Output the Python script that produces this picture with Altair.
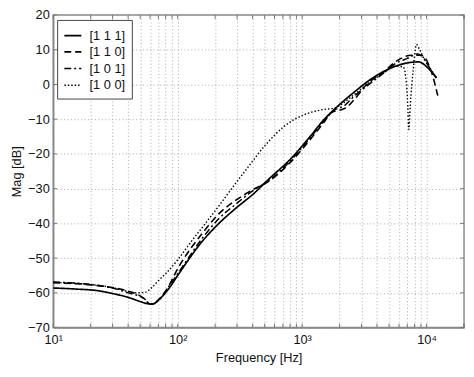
import altair as alt
import pandas as pd

series_names = ["[1 1 1]", "[1 1 0]", "[1 0 1]", "[1 0 0]"]

freq_111 = [10, 15, 23, 30, 40, 50, 57, 63, 72, 86, 100, 159, 216, 292, 406, 534, 815,
            1170, 1490, 1900, 2600, 3700, 5300, 7600, 8600, 10300, 12000]
mag_111 = [-58.6, -58.9, -59.4, -60.2, -61.3, -62.5, -63.1, -63.2, -61.7, -58.5, -55.0,
           -45.0, -39.9, -35.7, -31.5, -27.4, -21.3, -14.8, -10.2, -6.5, -2.3, 1.9, 4.9,
           6.4, 6.5, 4.7, 1.9]

freq_110 = [10, 20, 30, 40, 54, 60, 70, 80, 104, 159, 216, 292, 406, 534, 815, 1170,
            1490, 1750, 2000, 2300, 2600, 3300, 4600, 5600, 7600, 9100, 10900, 12300]
mag_110 = [-57.1, -57.7, -58.5, -59.5, -61.7, -63.3, -62.0, -59.5, -52.0, -42.7, -37.1,
           -33.4, -30.2, -28.0, -22.2, -15.7, -11.0, -7.9, -7.4, -6.5, -4.5, 0.0, 3.8,
           6.5, 8.4, 8.4, 3.8, -3.2]

freq_101 = [10, 20, 30, 40, 54, 60, 70, 80, 100, 160, 216, 292, 406, 534, 815, 1170,
            1500, 1800, 2200, 2600, 3300, 4600, 5600, 7000, 8500, 9500, 10900, 12000]
mag_101 = [-56.9, -57.6, -58.6, -60.0, -61.7, -63.3, -62.3, -59.5, -54.5, -44.0, -38.5,
           -34.5, -30.5, -27.8, -21.8, -15.2, -10.5, -7.5, -6.0, -3.5, -0.5, 3.5, 6.0,
           7.5, 8.8, 7.5, 4.0, 1.9]

freq_100 = [10, 20, 30, 40, 47, 55, 62, 70, 80, 100, 130, 159, 214, 292, 350, 503, 720,
            1040, 1490, 1800, 2500, 3300, 4600, 5600, 6500, 6900, 7100, 7200, 7400, 7800,
            8300, 8800, 9500, 10500, 12000]
mag_100 = [-57.0, -57.6, -58.5, -59.6, -60.0, -59.8, -58.5, -56.5, -54.5, -50.5, -45.0,
           -41.0, -35.0, -28.5, -24.8, -17.6, -12.0, -8.7, -7.2, -6.8, -3.5, 0.0, 3.5, 5.3,
           5.0, 0.0, -8.0, -13.0, -6.0, 4.0, 11.5, 10.0, 7.5, 5.0, 2.0]

y_ticks = [-70, -60, -50, -40, -30, -20, -10, 0, 10, 20]
decades = [10, 100, 1000, 10000]
x_grid = [m * d for d in decades for m in range(1, 10) if m * d <= 20000] + [20000]

rows = []
for name, fr, mg in zip(series_names,
                        [freq_111, freq_110, freq_101, freq_100],
                        [mag_111, mag_110, mag_101, mag_100]):
    for f, m in zip(fr, mg):
        rows.append({"freq": f, "mag": m, "series": name})
df = pd.DataFrame(rows)

W, H = 418, 318
xscale = alt.Scale(type="log", domain=[10, 20000], nice=False)
yscale = alt.Scale(domain=[-70, 20], nice=False)

label_expr = ("datum.value == 10 ? '10¹' : datum.value == 100 ? '10²' : "
              "datum.value == 1000 ? '10³' : datum.value == 10000 ? '10⁴' : ''")
y_label_expr = "datum.value < 0 ? '\u2212' + abs(datum.value) : '' + datum.value"

x_axis = alt.Axis(values=x_grid, labelExpr=label_expr, title="Frequency [Hz]",
                  ticks=False, labelFlush=False, labelOverlap=False,
                  labelPadding=6, titleY=25, titleBaseline="top")
y_axis = alt.Axis(values=y_ticks, title="Mag [dB]", ticks=False, labelExpr=y_label_expr,
                  labelOverlap=False, labelFlush=False,
                  labelPadding=4, titleX=-30)

lines = alt.Chart(df).mark_line(color="black", interpolate="monotone").encode(
    x=alt.X("freq:Q", scale=xscale, axis=x_axis),
    y=alt.Y("mag:Q", scale=yscale, axis=y_axis),
    strokeDash=alt.StrokeDash("series:N",
                              scale=alt.Scale(domain=series_names,
                                              range=[[1, 0], [7, 4], [7, 3, 2, 3], [1.5, 2]]),
                              legend=alt.Legend(title=None, orient="none", legendX=4, legendY=5,
                                                symbolType="stroke", symbolSize=300,
                                                symbolStrokeColor="black", symbolStrokeWidth=1.4,
                                                labelFontSize=13, labelOffset=7,
                                                rowPadding=0, padding=6,
                                                fillColor="white", strokeColor="#444")),
    strokeWidth=alt.StrokeWidth("series:N",
                                scale=alt.Scale(domain=series_names, range=[1.7, 1.4, 1.4, 1.3]),
                                legend=None),
    order=alt.Order("freq:Q"),
)

xt = pd.DataFrame({"freq": x_grid})
yt = pd.DataFrame({"mag": y_ticks})
tick_col = "#777"
xt_bottom = alt.Chart(xt).mark_rule(color=tick_col).encode(
    x=alt.X("freq:Q", scale=xscale, axis=x_axis), y=alt.value(H - 4), y2=alt.value(H))
xt_top = alt.Chart(xt).mark_rule(color=tick_col).encode(
    x=alt.X("freq:Q", scale=xscale, axis=x_axis), y=alt.value(0), y2=alt.value(4))
yt_left = alt.Chart(yt).mark_rule(color=tick_col).encode(
    y=alt.Y("mag:Q", scale=yscale, axis=y_axis), x=alt.value(0), x2=alt.value(4))
yt_right = alt.Chart(yt).mark_rule(color=tick_col).encode(
    y=alt.Y("mag:Q", scale=yscale, axis=y_axis), x=alt.value(W - 4), x2=alt.value(W))

chart = alt.layer(lines, xt_bottom, xt_top, yt_left, yt_right).properties(
    width=W, height=H,
    autosize=alt.AutoSizeParams(type="none"),
    padding={"left": 46, "top": 4, "right": 2, "bottom": 39},
).configure_view(
    stroke="#888", strokeWidth=1.5
).configure_axis(
    grid=True, gridColor="#aaa", gridDash=[1, 2.5], gridWidth=1,
    domainColor="#888", domainWidth=1.5,
    labelFont="Liberation Sans", titleFont="Liberation Sans",
    labelFontSize=13, titleFontSize=13, labelColor="#111", titleColor="#111",
    titleFontWeight="normal",
).configure_axisY(
    labelOverlap=False
).configure_legend(
    labelFont="Liberation Sans", labelColor="#111"
)

chart.save("out.html", embed_options={"renderer": "svg", "actions": False})
